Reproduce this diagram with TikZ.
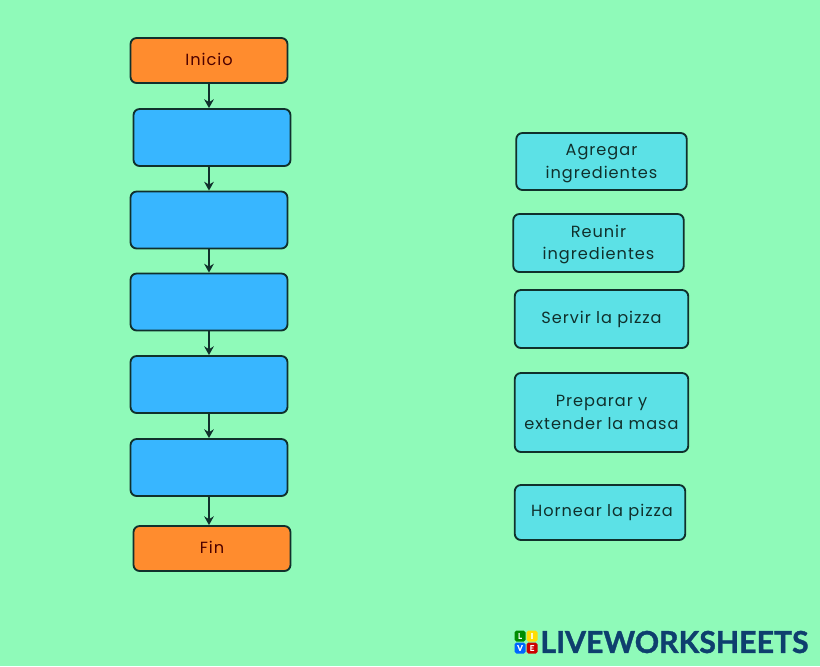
\documentclass[tikz,border=0pt]{standalone}
\usepackage{fontspec}
\setmainfont[LetterSpace=6]{Poppins}
\newfontfamily\logofont[FakeBold=1.2]{Lato}
\usetikzlibrary{arrows.meta}
\definecolor{fondo}{HTML}{8FFAB9}
\definecolor{naranja}{HTML}{FF8C2E}
\definecolor{azul}{HTML}{38B6FF}
\definecolor{celeste}{HTML}{5CE1E6}
\definecolor{linea}{HTML}{10302C}
\definecolor{marca}{HTML}{0E3F6E}
\newcommand{\bajar}{\rule{0pt}{8.6pt}}
\newcommand{\subir}{\rule[-1.2pt]{0pt}{1.2pt}}
\tikzset{
  caja/.style={draw=linea,line width=1.05pt,rounded corners=3.5pt,inner sep=0pt,align=center,font=\fontsize{9.2}{12.7}\selectfont},
  extremo/.style={caja,fill=naranja,text=black!70!red,minimum width=3.14cm,minimum height=0.9cm},
  paso/.style={caja,fill=azul,minimum width=3.14cm,minimum height=1.14cm},
  opcion/.style={caja,fill=celeste,text=linea},
  flecha/.style={draw=linea,line width=0.9pt,-{Stealth[length=5pt,width=5.5pt]}},
  tile/.style={rounded corners=1pt,minimum size=0.22cm,inner sep=0pt,text=white,font=\fontsize{4.5}{4.5}\bfseries\logofont}
}
\begin{document}
\begin{tikzpicture}[x=0.02cm,y=-0.02cm]
\fill[fondo] (0,0) rectangle (820,666);
\useasboundingbox (0,0) rectangle (820,666);
% diagrama
\node[extremo] (inicio) at (209,60.5) {Inicio\subir};
\node[paso] (p1) at (212,137.5) {};
\node[paso] (p2) at (209,220) {};
\node[paso] (p3) at (209,302) {};
\node[paso] (p4) at (209,384.5) {};
\node[paso] (p5) at (209,467.5) {};
\node[extremo] (fin) at (212,548.5) {Fin\subir};
\draw[flecha] (inicio.south) -- (inicio.south |- p1.north);
\draw[flecha] (inicio.south |- p1.south) -- (p2.north);
\draw[flecha] (p2.south) -- (p3.north);
\draw[flecha] (p3.south) -- (p4.north);
\draw[flecha] (p4.south) -- (p5.north);
\draw[flecha] (p5.south) -- (p5.south |- fin.north);
% opciones
\node[opcion,minimum width=3.41cm,minimum height=1.14cm] (agregar) at (601.5,161.5) {\bajar Agregar\\ingredientes};
\node[opcion,minimum width=3.41cm,minimum height=1.16cm] (reunir) at (598.5,243) {\bajar Reunir\\ingredientes};
\node[opcion,minimum width=3.47cm,minimum height=1.16cm] (servir) at (601.5,319) {Servir la pizza};
\node[opcion,minimum width=3.47cm,minimum height=1.58cm] (preparar) at (601.5,412.5) {Preparar y\\extender la masa};
\node[opcion,minimum width=3.41cm,minimum height=1.1cm,text width=3.41cm] (hornear) at (600,512.5) {\hspace{0.08cm}Hornear la pizza};
% logo
\node[tile,fill=green!55!black] (tl) at (520,636) {L};
\node[tile,fill=yellow!80!orange] (ti) at (532,636) {I};
\node[tile,fill=blue!60!cyan] (tv) at (520,648) {V};
\node[tile,fill=red!80!black] (te) at (532,648) {E};
\node[inner sep=0pt,text=marca,anchor=west,font=\fontsize{17.2}{17.2}\selectfont\logofont\bfseries] (marca) at (540,642) {LIVEWORKSHEETS};
\end{tikzpicture}
\end{document}
